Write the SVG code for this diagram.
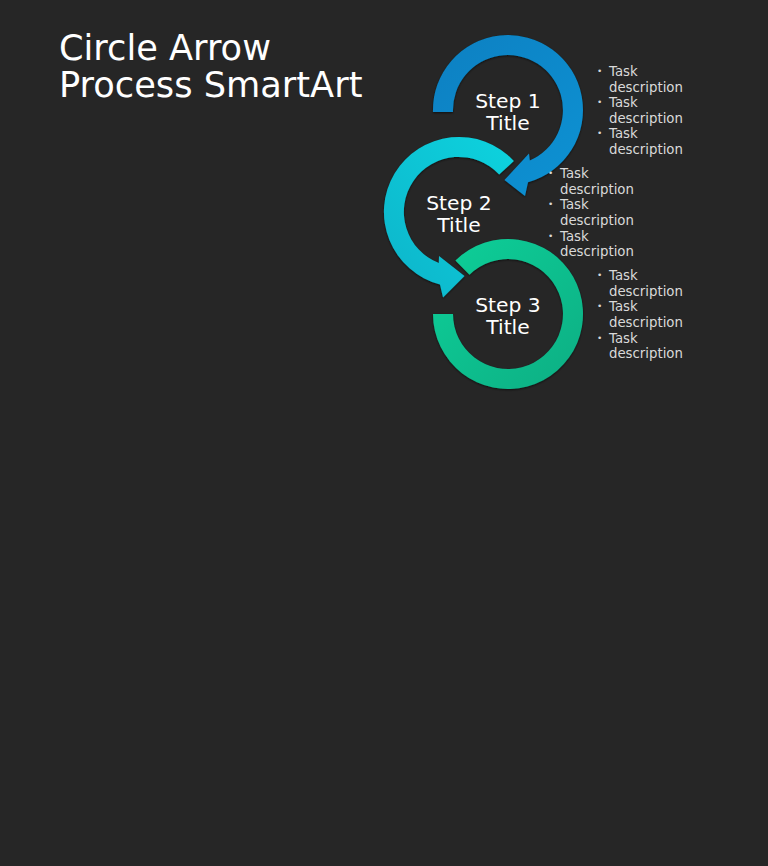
<svg xmlns="http://www.w3.org/2000/svg" width="768" height="866" viewBox="0 0 768 866">
<defs>
<linearGradient id="g1" x1="0" y1="0" x2="1" y2="1">
<stop offset="0" stop-color="#0880c2"/>
<stop offset="1" stop-color="#0a92d3"/>
</linearGradient>
<linearGradient id="g2" x1="0" y1="1" x2="1" y2="0">
<stop offset="0" stop-color="#0db4ca"/>
<stop offset="1" stop-color="#08d3de"/>
</linearGradient>
<linearGradient id="g3" x1="0" y1="0" x2="1" y2="1">
<stop offset="0" stop-color="#10d099"/>
<stop offset="1" stop-color="#0aae83"/>
</linearGradient>
<filter id="sh" x="-10%" y="-10%" width="120%" height="120%">
<feDropShadow dx="0" dy="1" stdDeviation="1.2" flood-color="#000" flood-opacity="0.6"/>
</filter>
</defs>
<style>
.title{font-family:"DejaVu Sans",sans-serif;font-size:35.2px;fill:#ffffff}
.step{font-family:"DejaVu Sans",sans-serif;font-size:20.3px;fill:#ffffff;text-anchor:middle}
.task{font-family:"DejaVu Sans",sans-serif;font-size:13.3px;fill:#d9d9d9}
.bul{font-family:"DejaVu Sans",sans-serif;font-size:9px;fill:#d9d9d9}
</style>
<rect width="768" height="866" fill="#262626"/>
<g id="title">
<text class="title" x="59" y="60">Circle Arrow</text>
<text class="title" x="59" y="97">Process SmartArt</text>
</g>
<g id="connectors"/>
<g id="step3" filter="url(#sh)">
<path d="M433,314 A75,75 0 1 0 455.4,260.5 L469.5,274.8 A55,55 0 1 1 453,314 Z" fill="url(#g3)"/>
</g>
<g id="step2" filter="url(#sh)">
<path d="M513.9,160.9 A75,75 0 1 0 440,284.5 L443,297.5 L464.5,276 L439,256 L438.8,263.1 A55,55 0 1 1 499.2,174.5 Z" fill="url(#g2)"/>
</g>
<g id="step1" filter="url(#sh)">
<path d="M433,112 A75,75 0 1 1 528,182.3 L525,196 L504.5,180 L529,153.5 L529.8,160.5 A55,55 0 1 0 453,112 Z" fill="url(#g1)"/>
</g>
<g id="label1">
<text class="step" x="508" y="107.7">Step 1</text>
<text class="step" x="508" y="129.5">Title</text>
</g>
<g id="label2">
<text class="step" x="459" y="209.7">Step 2</text>
<text class="step" x="459" y="231.5">Title</text>
</g>
<g id="label3">
<text class="step" x="508" y="311.7">Step 3</text>
<text class="step" x="508" y="333.5">Title</text>
</g>
<g id="tasks1">
<text class="bul" x="597" y="74">•</text><text class="task" x="609" y="76">Task</text><text class="task" x="609" y="91.5">description</text>
<text class="bul" x="597" y="105">•</text><text class="task" x="609" y="107">Task</text><text class="task" x="609" y="122.5">description</text>
<text class="bul" x="597" y="136">•</text><text class="task" x="609" y="138">Task</text><text class="task" x="609" y="154">description</text>
</g>
<g id="tasks2">
<text class="bul" x="548" y="176">•</text><text class="task" x="560" y="178">Task</text><text class="task" x="560" y="193.5">description</text>
<text class="bul" x="548" y="207">•</text><text class="task" x="560" y="209">Task</text><text class="task" x="560" y="224.5">description</text>
<text class="bul" x="548" y="239">•</text><text class="task" x="560" y="241">Task</text><text class="task" x="560" y="256">description</text>
</g>
<g id="tasks3">
<text class="bul" x="597" y="278">•</text><text class="task" x="609" y="280">Task</text><text class="task" x="609" y="295.5">description</text>
<text class="bul" x="597" y="309">•</text><text class="task" x="609" y="311">Task</text><text class="task" x="609" y="326.5">description</text>
<text class="bul" x="597" y="341">•</text><text class="task" x="609" y="343">Task</text><text class="task" x="609" y="358">description</text>
</g>
</svg>
